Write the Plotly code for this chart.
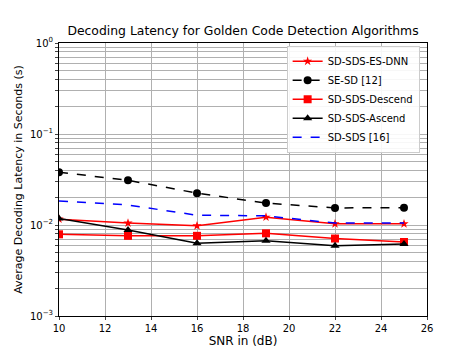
import plotly.graph_objects as go

snr = [10, 13, 16, 19, 22, 25]
es_dnn = [0.0116, 0.0105, 0.0098, 0.0122, 0.0103, 0.0103]
se_sd = [0.038, 0.031, 0.0224, 0.0174, 0.0154, 0.0155]
descend = [0.0079, 0.0076, 0.0076, 0.0081, 0.0071, 0.0065]
ascend = [0.0118, 0.0088, 0.0063, 0.0067, 0.0059, 0.0062]
sd_sds = [0.0184, 0.0166, 0.0128, 0.0126, 0.0105, 0.0105]

xticks = [10, 12, 14, 16, 18, 20, 22, 24, 26]
decades = [1e-3, 1e-2, 1e-1]
ytickvals = [d * m for d in decades for m in range(1, 10)] + [1.0]
ytext_major = {1e-3: "10<sup>−3</sup>", 1e-2: "10<sup>−2</sup>", 1e-1: "10<sup>−1</sup>", 1.0: "10<sup>0</sup>"}
yticktext = []
for d in decades:
    yticktext.append(ytext_major[d])
    yticktext.extend([""] * 8)
yticktext.append(ytext_major[1.0])

fig = go.Figure()
fig.add_trace(go.Scatter(x=snr, y=es_dnn, name="SD-SDS-ES-DNN", mode="lines+markers",
                         line=dict(color="red", width=1.5),
                         marker=dict(symbol="star", size=7, color="red")))
fig.add_trace(go.Scatter(x=snr, y=se_sd, name="SE-SD [12]", mode="lines+markers",
                         line=dict(color="black", width=1.5, dash="dash"),
                         marker=dict(symbol="circle", size=8, color="black")))
fig.add_trace(go.Scatter(x=snr, y=descend, name="SD-SDS-Descend", mode="lines+markers",
                         line=dict(color="red", width=1.5),
                         marker=dict(symbol="square", size=8, color="red")))
fig.add_trace(go.Scatter(x=snr, y=ascend, name="SD-SDS-Ascend", mode="lines+markers",
                         line=dict(color="black", width=1.5),
                         marker=dict(symbol="triangle-up", size=8, color="black")))
fig.add_trace(go.Scatter(x=snr, y=sd_sds, name="SD-SDS [16]", mode="lines",
                         line=dict(color="blue", width=1.5, dash="dash")))

fig.update_layout(
    width=466, height=347,
    margin=dict(l=51, r=47, t=35, b=39),
    paper_bgcolor="white", plot_bgcolor="white",
    font=dict(family="DejaVu Sans", size=10, color="black"),
    title=dict(text="Decoding Latency for Golden Code Detection Algorithms",
               x=0.5, xref="paper", xanchor="center", y=0.934, yref="container",
               yanchor="middle", font=dict(size=12.4)),
    showlegend=True,
    legend=dict(x=0.98, y=0.99, xanchor="right", yanchor="top",
                bgcolor="rgba(255,255,255,0.9)", bordercolor="#cccccc", borderwidth=1,
                font=dict(size=10), tracegroupgap=0, itemwidth=30),
)
fig.update_xaxes(range=[10, 26], tickvals=xticks, showgrid=True, gridcolor="#b0b0b0",
                 gridwidth=1, showline=True, linecolor="black", mirror=True,
                 ticks="outside", ticklen=3, zeroline=False, automargin=False,
                 title=dict(text="SNR in (dB)", standoff=2))
fig.update_yaxes(type="log", range=[-3, 0], tickvals=ytickvals, ticktext=yticktext,
                 showgrid=True, gridcolor="#b0b0b0", gridwidth=1,
                 showline=True, linecolor="black", mirror=True,
                 ticks="outside", ticklen=3, zeroline=False, automargin=False,
                 title=dict(text="Average Decoding Latency in Seconds (s)", standoff=5,
                            font=dict(size=11)))

fig.write_html("out.html")
